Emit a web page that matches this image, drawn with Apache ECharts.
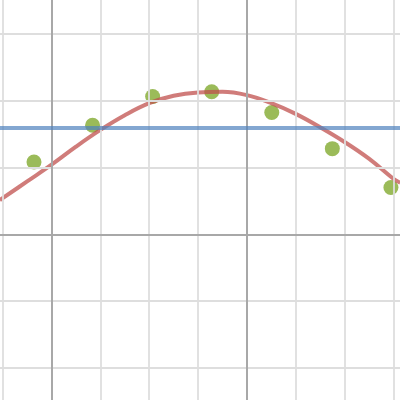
<!DOCTYPE html>
<html>
<head>
<meta charset="utf-8">
<script src="https://cdn.jsdelivr.net/npm/echarts@6/dist/echarts.min.js"></script>
<style>
  html, body { margin: 0; padding: 0; background: #fff; }
  #chart { width: 400px; height: 400px; }
</style>
</head>
<body>
<div id="chart"></div>
<script>
// measured points (grid units)
const pointX = [-0.36, 0.84, 2.07, 3.28, 4.51, 5.75, 6.95];
const pointY = [1.08, 1.63, 2.06, 2.13, 1.82, 1.28, 0.70];

// fitted curve, every half cell
const curveX = [-1.06, -0.5, 0, 0.5, 1, 1.5, 2, 2.5, 3, 3.5, 4, 4.5, 5, 5.5, 6, 6.5, 7, 7.14];
const curveY = [0.51, 0.79, 1.04, 1.31, 1.56, 1.78, 1.96, 2.07, 2.12, 2.13, 2.08, 1.96, 1.80, 1.60, 1.38, 1.13, 0.83, 0.77];

// horizontal reference line
const meanY = 1.59;

// grid lines
const gridX = [-1, 1, 2, 3, 5, 6, 7];
const gridY = [-2, -1, 1, 2, 3];
const darkX = [0, 4];
const darkY = [0];

// visible window
const xMin = -1.056, xMax = 7.136;
const yMin = -2.477, yMax = 3.502;

const chart = echarts.init(document.getElementById('chart'));

const pts = pointX.map((x, i) => [x, pointY[i]]);
const curve = curveX.map((x, i) => [x, curveY[i]]);

const toLines = (xs, ys) => xs.map(v => ({ xAxis: v })).concat(ys.map(v => ({ yAxis: v })));

const lineMark = (color, width, data) => ({
  silent: true,
  symbol: 'none',
  label: { show: false },
  emphasis: { disabled: true },
  lineStyle: { color: color, width: width, type: 'solid' },
  data: data
});

const option = {
  animation: false,
  backgroundColor: '#ffffff',
  grid: { left: 0, right: 0, top: 0, bottom: 0 },
  xAxis: {
    type: 'value',
    min: xMin,
    max: xMax,
    axisLine: { show: false },
    axisTick: { show: false },
    axisLabel: { show: false },
    splitLine: { show: false }
  },
  yAxis: {
    type: 'value',
    min: yMin,
    max: yMax,
    axisLine: { show: false },
    axisTick: { show: false },
    axisLabel: { show: false },
    splitLine: { show: false }
  },
  series: [
    {
      name: 'grid',
      type: 'line',
      data: [],
      silent: true,
      markLine: lineMark('#dedede', 1.8, toLines(gridX, gridY))
    },
    {
      name: 'axes',
      type: 'line',
      data: [],
      silent: true,
      markLine: lineMark('#a8a8a8', 2, toLines(darkX, darkY))
    },
    {
      name: 'mean',
      type: 'line',
      data: [],
      silent: true,
      markLine: lineMark('rgba(79,129,189,0.7)', 4, [{ yAxis: meanY }])
    },
    {
      name: 'fit',
      type: 'line',
      data: curve,
      smooth: 0.4,
      showSymbol: false,
      lineStyle: { color: 'rgba(192,80,77,0.75)', width: 4 }
    },
    {
      name: 'data',
      type: 'scatter',
      data: pts,
      symbolSize: 15,
      itemStyle: { color: '#9bbb59', opacity: 1 }
    }
  ]
};

chart.setOption(option);
</script>
</body>
</html>
